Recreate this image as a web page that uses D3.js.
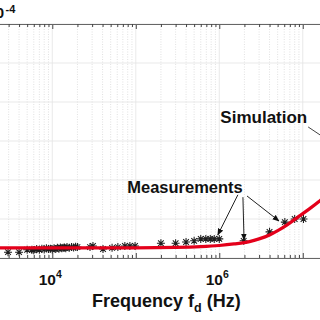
<!DOCTYPE html>
<html>
<head>
<meta charset="utf-8">
<script src="https://cdn.jsdelivr.net/npm/d3@7"></script>
<style>
  body { margin: 0; background: #fff; }
  text { font-family: "Liberation Sans", Arial, sans-serif; font-weight: bold; }
</style>
</head>
<body>
<div id="chart"></div>
<script>
// simulation curve (frequency in Hz, value in units of 1e-4)
var simFreq = [1e3, 1e4, 1e5, 3e5, 6e5, 1e6, 1.5e6, 2.3e6, 3e6, 4e6, 5.2e6, 6.5e6, 8.9e6, 1.2e7, 1.55e7, 2e7, 3e7];
var simValue = [0.26, 0.26, 0.26, 0.27, 0.29, 0.32, 0.36, 0.42, 0.49, 0.59, 0.72, 0.85, 1.06, 1.26, 1.44, 1.66, 2.05];

// measurements
var measFreq = [2950, 4000, 5000, 5700, 6000, 6500, 7000, 7500, 8000, 8500, 9000, 9500, 10000, 10500,
  11000, 11500, 12000, 12500, 13000, 13500, 14000, 14500, 15000, 16000, 17000, 18000, 19000, 20000,
  28300, 30700, 40500, 52000, 61000, 74000, 85000, 98000,
  2.0e5, 3.0e5, 4.0e5, 5.0e5, 6.0e5, 6.9e5, 7.8e5, 8.7e5, 1.0e6,
  1.96e6, 4.0e6, 6.1e6, 8.0e6, 1.02e7];
var measValue = [0.15, 0.15, 0.21, 0.21, 0.2, 0.23, 0.21, 0.24, 0.22, 0.25, 0.23, 0.24, 0.22, 0.25,
  0.23, 0.26, 0.24, 0.27, 0.25, 0.26, 0.27, 0.25, 0.28, 0.26, 0.28, 0.27, 0.29, 0.28,
  0.28, 0.31, 0.23, 0.26, 0.28, 0.31, 0.31, 0.31,
  0.38, 0.38, 0.41, 0.44, 0.49, 0.49, 0.49, 0.49, 0.49,
  0.44, 0.67, 0.92, 1.0, 1.0];

var xDecades = [1e3, 1e4, 1e5, 1e6, 1e7];
var xLabelled = [1e4, 1e6];
var yTicks = [0, 1, 2, 3, 4, 5, 6];

// annotation arrows, [freq, value] from -> to
var arrowFrom = [[1.67e6, 1.62], [1.92e6, 1.56], [2.15e6, 1.59]];
var arrowTo = [[9.6e5, 0.59], [1.98e6, 0.46], [5.19e6, 0.95]];
var simLeader = [[1.16e7, 3.36], [2.43e7, 2.9]];
var measLabelPos = [7.9e4, 1.67];
var simLabelPos = [1.03e6, 3.46];

var svgWidth = 320;
var svgHeight = 320;

var svg = d3.select("#chart")
  .append("svg")
  .attr("width", svgWidth)
  .attr("height", svgHeight);

var defs = svg.append("defs");
defs.append("marker")
  .attr("id", "head")
  .attr("viewBox", "0 0 10 10")
  .attr("refX", 9)
  .attr("refY", 5)
  .attr("markerWidth", 7)
  .attr("markerHeight", 7)
  .attr("markerUnits", "userSpaceOnUse")
  .attr("orient", "auto")
  .append("path")
  .attr("d", "M0,1 L10,5 L0,9 z")
  .attr("fill", "#111");

var xScale = d3.scaleLog()
  .domain([1e3, 3e7])
  .range([-31.2, 342.6]);

var yScale = d3.scaleLinear()
  .domain([0, 6])
  .range([258, 24]);

var x0 = xScale.range()[0], x1 = xScale.range()[1];
var y0 = yScale.range()[0], y1 = yScale.range()[1];

var minorTicks = [];
xDecades.forEach(function(d) {
  for (var k = 2; k <= 9; k++) {
    var v = d * k;
    if (v < xScale.domain()[1]) minorTicks.push(v);
  }
});

// grid
var grid = svg.append("g");
grid.selectAll(".minor")
  .data(minorTicks)
  .enter()
  .append("line")
  .attr("x1", d => xScale(d))
  .attr("x2", d => xScale(d))
  .attr("y1", y1)
  .attr("y2", y0)
  .attr("stroke", "#d9d9d9")
  .attr("stroke-width", 0.8)
  .attr("stroke-dasharray", "1,1.5");

grid.selectAll(".major")
  .data(xDecades)
  .enter()
  .append("line")
  .attr("x1", d => xScale(d))
  .attr("x2", d => xScale(d))
  .attr("y1", y1)
  .attr("y2", y0)
  .attr("stroke", "#e3e3e3")
  .attr("stroke-width", 0.8);

grid.selectAll(".hgrid")
  .data(yTicks)
  .enter()
  .append("line")
  .attr("x1", x0)
  .attr("x2", x1)
  .attr("y1", d => yScale(d))
  .attr("y2", d => yScale(d))
  .attr("stroke", "#e3e3e3")
  .attr("stroke-width", 0.8);

// measurements as asterisks
function asterisk(r) {
  var a = r * 0.7071;
  return "M0," + (-r) + "L0," + r + "M" + (-r) + ",0L" + r + ",0" +
    "M" + (-a) + "," + (-a) + "L" + a + "," + a + "M" + (-a) + "," + a + "L" + a + "," + (-a);
}

var measData = measFreq.map((f, i) => ({ f: f, v: measValue[i] }));
svg.append("g").selectAll("path")
  .data(measData)
  .enter()
  .append("path")
  .attr("transform", d => `translate(${xScale(d.f)}, ${yScale(d.v)})`)
  .attr("d", asterisk(4))
  .attr("stroke", "#1e1e1e")
  .attr("stroke-width", 1.05)
  .attr("fill", "none");

// simulation line
var simData = simFreq.map((f, i) => ({ f: f, v: simValue[i] }));
var line = d3.line()
  .x(d => xScale(d.f))
  .y(d => yScale(d.v))
  .curve(d3.curveMonotoneX);

svg.append("path")
  .datum(simData)
  .attr("d", line)
  .attr("fill", "none")
  .attr("stroke", "#e4001b")
  .attr("stroke-width", 3.2);

// axes
var bottomAxis = d3.axisBottom(xScale).tickValues(xDecades).tickSize(-5).tickFormat("");
var bottomMinor = d3.axisBottom(xScale).tickValues(minorTicks).tickSize(-3).tickFormat("");
var topAxis = d3.axisTop(xScale).tickValues(xDecades).tickSize(-5).tickFormat("");
var topMinor = d3.axisTop(xScale).tickValues(minorTicks).tickSize(-3).tickFormat("");
var leftAxis = d3.axisLeft(yScale).tickValues(yTicks).tickSize(-4).tickFormat("");

[[bottomAxis, y0], [bottomMinor, y0], [topAxis, y1], [topMinor, y1]].forEach(function(a) {
  svg.append("g")
    .attr("transform", `translate(0, ${a[1]})`)
    .call(a[0])
    .call(g => g.selectAll("line").attr("stroke", "#444"))
    .call(g => g.select(".domain").attr("stroke", "#666"));
});

svg.append("g")
  .attr("transform", `translate(${x0}, 0)`)
  .call(leftAxis);

// decade labels 10^n
var labels = svg.append("g");
xLabelled.forEach(function(d) {
  var t = labels.append("text")
    .attr("x", xScale(d) - 2)
    .attr("y", 285)
    .attr("text-anchor", "middle")
    .attr("font-size", "15.5px")
    .attr("fill", "#111");
  t.append("tspan").text("10");
  t.append("tspan")
    .attr("dy", -7)
    .attr("font-size", "10.5px")
    .text(Math.round(Math.log10(d)));
});

// axis title
var xt = svg.append("text")
  .attr("x", 92)
  .attr("y", 307)
  .attr("font-size", "18px")
  .attr("fill", "#111");
xt.append("tspan").text("Frequency f");
xt.append("tspan").attr("dy", 5).attr("font-size", "12.5px").text("d");
xt.append("tspan").attr("dy", -5).text(" (Hz)");

// exponent label
svg.append("text")
  .attr("x", 4)
  .attr("y", 18)
  .attr("text-anchor", "end")
  .attr("font-size", "15px")
  .attr("fill", "#111")
  .text("\u00d710");
svg.append("text")
  .attr("x", 5.5)
  .attr("y", 13)
  .attr("font-size", "11px")
  .attr("fill", "#111")
  .text("-4");

// annotations
svg.append("g").selectAll("line")
  .data(arrowFrom)
  .enter()
  .append("line")
  .attr("x1", d => xScale(d[0]))
  .attr("y1", d => yScale(d[1]))
  .attr("x2", (d, i) => xScale(arrowTo[i][0]))
  .attr("y2", (d, i) => yScale(arrowTo[i][1]))
  .attr("stroke", "#222")
  .attr("stroke-width", 1)
  .attr("marker-end", "url(#head)");

svg.append("line")
  .attr("x1", xScale(simLeader[0][0]))
  .attr("y1", yScale(simLeader[0][1]))
  .attr("x2", xScale(simLeader[1][0]))
  .attr("y2", yScale(simLeader[1][1]))
  .attr("stroke", "#444")
  .attr("stroke-width", 1);

svg.append("text")
  .attr("x", xScale(measLabelPos[0]))
  .attr("y", yScale(measLabelPos[1]))
  .attr("font-size", "16.5px")
  .attr("fill", "#111")
  .text("Measurements");

svg.append("text")
  .attr("x", xScale(simLabelPos[0]))
  .attr("y", yScale(simLabelPos[1]))
  .attr("font-size", "17px")
  .attr("fill", "#111")
  .text("Simulation");
</script>
</body>
</html>
